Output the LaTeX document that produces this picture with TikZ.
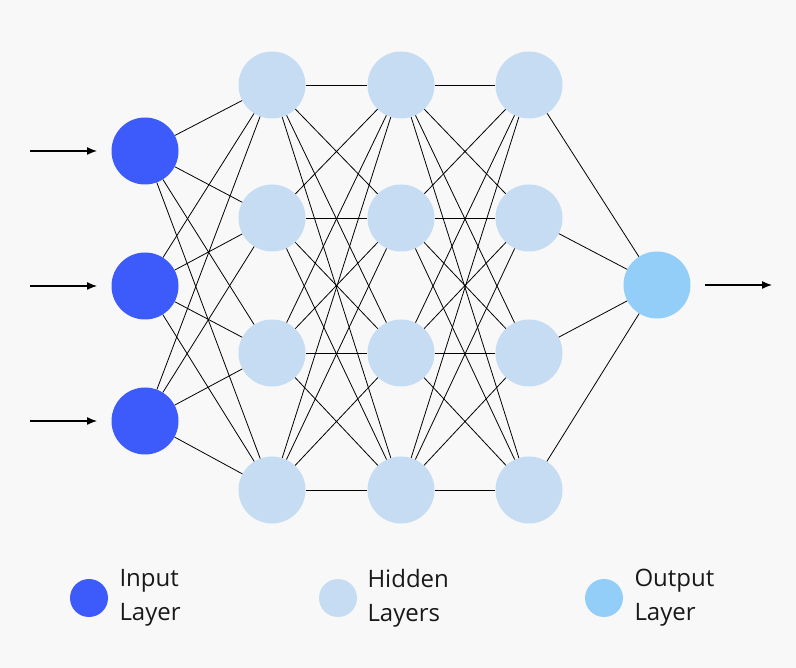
\documentclass[tikz,border=0pt]{standalone}
\usepackage{fontspec}
\setmainfont{Open Sans}
\usetikzlibrary{arrows.meta}
\definecolor{bg}{HTML}{F8F8F8}
\definecolor{inp}{HTML}{3D5BFB}
\definecolor{hid}{HTML}{C6DCF2}
\definecolor{outc}{HTML}{93CEF8}
\begin{document}
\begin{tikzpicture}[x=1pt,y=-1pt,
  neuron/.style={circle,minimum size=67pt,inner sep=0pt},
  leg/.style={circle,minimum size=38pt,inner sep=0pt},
  edge/.style={black,line width=0.8pt},
  arr/.style={black,line width=1.3pt,-{Latex[length=10pt,width=8pt]}},
  lbl/.style={anchor=west,align=left,font=\fontsize{24}{34}\selectfont,text=black!90}]
\fill[bg] (0,0) rectangle (796,668);
\useasboundingbox (0,0) rectangle (796,668);
\foreach \i/\y in {1/151,2/286,3/421} \node[neuron,fill=inp] (i\i) at (145,\y) {};
\foreach \l/\x in {1/272,2/401,3/529}
  \foreach \j/\y in {1/85,2/218,3/353,4/490}
    \node[neuron,fill=hid] (h\l\j) at (\x,\y) {};
\node[neuron,fill=outc] (o) at (657,285) {};
\foreach \i in {1,2,3} \foreach \j in {1,...,4} \draw[edge] (i\i) -- (h1\j);
\foreach \a in {1,...,4} \foreach \b in {1,...,4} {\draw[edge] (h1\a) -- (h2\b); \draw[edge] (h2\a) -- (h3\b);}
\foreach \j in {1,...,4} \draw[edge] (h3\j) -- (o);
\foreach \i/\y in {1/151,2/286,3/421} {\coordinate (s\i) at (30,\y); \coordinate (e\i) at (97,\y); \draw[arr] (s\i) -- (e\i);}
\coordinate (os) at (705,285); \coordinate (oe) at (772,285);
\draw[arr] (os) -- (oe);
\node[leg,fill=inp] (l1) at (89,598) {};
\node[leg,fill=hid] (l2) at (338,598) {};
\node[leg,fill=outc] (l3) at (604,598) {};
\node[lbl] (t1) at (116,598) {Input\\Layer};
\node[lbl] (t2) at (364,598) {Hidden\\Layers};
\node[lbl] (t3) at (631,598) {Output\\Layer};
\end{tikzpicture}
\end{document}
